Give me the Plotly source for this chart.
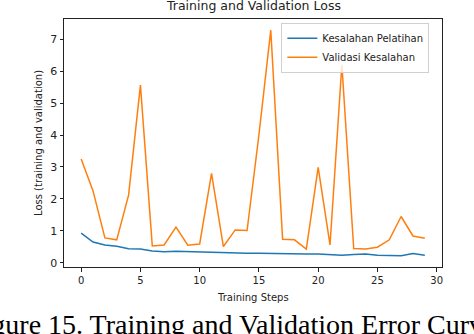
import plotly.graph_objects as go

steps = list(range(30))
train_loss = [0.93, 0.65, 0.56, 0.52, 0.44, 0.43, 0.37, 0.35, 0.36, 0.35,
              0.32, 0.32, 0.32, 0.31, 0.30, 0.30, 0.29, 0.28, 0.29, 0.28,
              0.28, 0.27, 0.24, 0.26, 0.28, 0.24, 0.23, 0.22, 0.29, 0.24]
val_loss = [3.25, 2.25, 0.78, 0.72, 2.12, 5.56, 0.53, 0.56, 1.12, 0.55,
            0.59, 2.80, 0.51, 1.03, 1.01, 4.00, 7.28, 0.74, 0.72, 0.43,
            2.99, 0.56, 6.20, 0.45, 0.43, 0.49, 0.72, 1.45, 0.84, 0.77]
x_ticks = [0, 5, 10, 15, 20, 25, 30]
y_ticks = [0, 1, 2, 3, 4, 5, 6, 7]

fig = go.Figure()
fig.add_trace(go.Scatter(x=steps, y=train_loss, mode="lines", name="Kesalahan Pelatihan",
                         line=dict(color="#1f77b4", width=1.5)))
fig.add_trace(go.Scatter(x=steps, y=val_loss, mode="lines", name="Validasi Kesalahan",
                         line=dict(color="#ff7f0e", width=1.5)))

font_sans = "DejaVu Sans"
fig.update_layout(
    width=474, height=334,
    margin=dict(l=64, r=32, t=19, b=67),
    paper_bgcolor="white", plot_bgcolor="white",
    font=dict(family=font_sans, size=10, color="#222"),
    showlegend=True,
    legend=dict(x=0.575, y=0.985, xanchor="left", yanchor="top",
                bgcolor="rgba(255,255,255,0.8)", bordercolor="#d0d0d0", borderwidth=1,
                font=dict(family=font_sans, size=10, color="#222"),
                itemwidth=30, tracegroupgap=0),
    xaxis=dict(range=[-1.45, 30.45], tickvals=x_ticks, ticks="outside", ticklen=3.5,
               tickwidth=0.8, tickcolor="#222", showgrid=False, zeroline=False,
               showline=True, linecolor="#222", linewidth=1, mirror=True,
               tickfont=dict(size=10)),
    yaxis=dict(range=[-0.13, 7.63], tickvals=y_ticks, ticks="outside", ticklen=3.5,
               tickwidth=0.8, tickcolor="#222", showgrid=False, zeroline=False,
               showline=True, linecolor="#222", linewidth=1, mirror=True,
               tickfont=dict(size=11)),
    annotations=[
        dict(text="Training and Validation Loss", x=0.5, y=1, xref="paper", yref="paper",
             xanchor="center", yanchor="bottom", yshift=4, showarrow=False,
             font=dict(family=font_sans, size=12.5, color="#222")),
        dict(text="Training Steps", x=0.5, y=0, xref="paper", yref="paper",
             xanchor="center", yanchor="middle", yshift=-30, showarrow=False,
             font=dict(family=font_sans, size=10, color="#222")),
        dict(text="Loss (training and validation)", x=0, y=0.5, xref="paper", yref="paper",
             xanchor="center", yanchor="middle", xshift=-26, textangle=-90, showarrow=False,
             font=dict(family=font_sans, size=10, color="#222")),
        dict(text="Figure 15. Training and Validation Error Curve", x=0.444, y=0,
             xref="paper", yref="paper", xanchor="center", yanchor="middle", yshift=-57,
             showarrow=False, font=dict(family="Liberation Serif", size=28, color="#000")),
    ],
)
fig.write_html("out.html")
